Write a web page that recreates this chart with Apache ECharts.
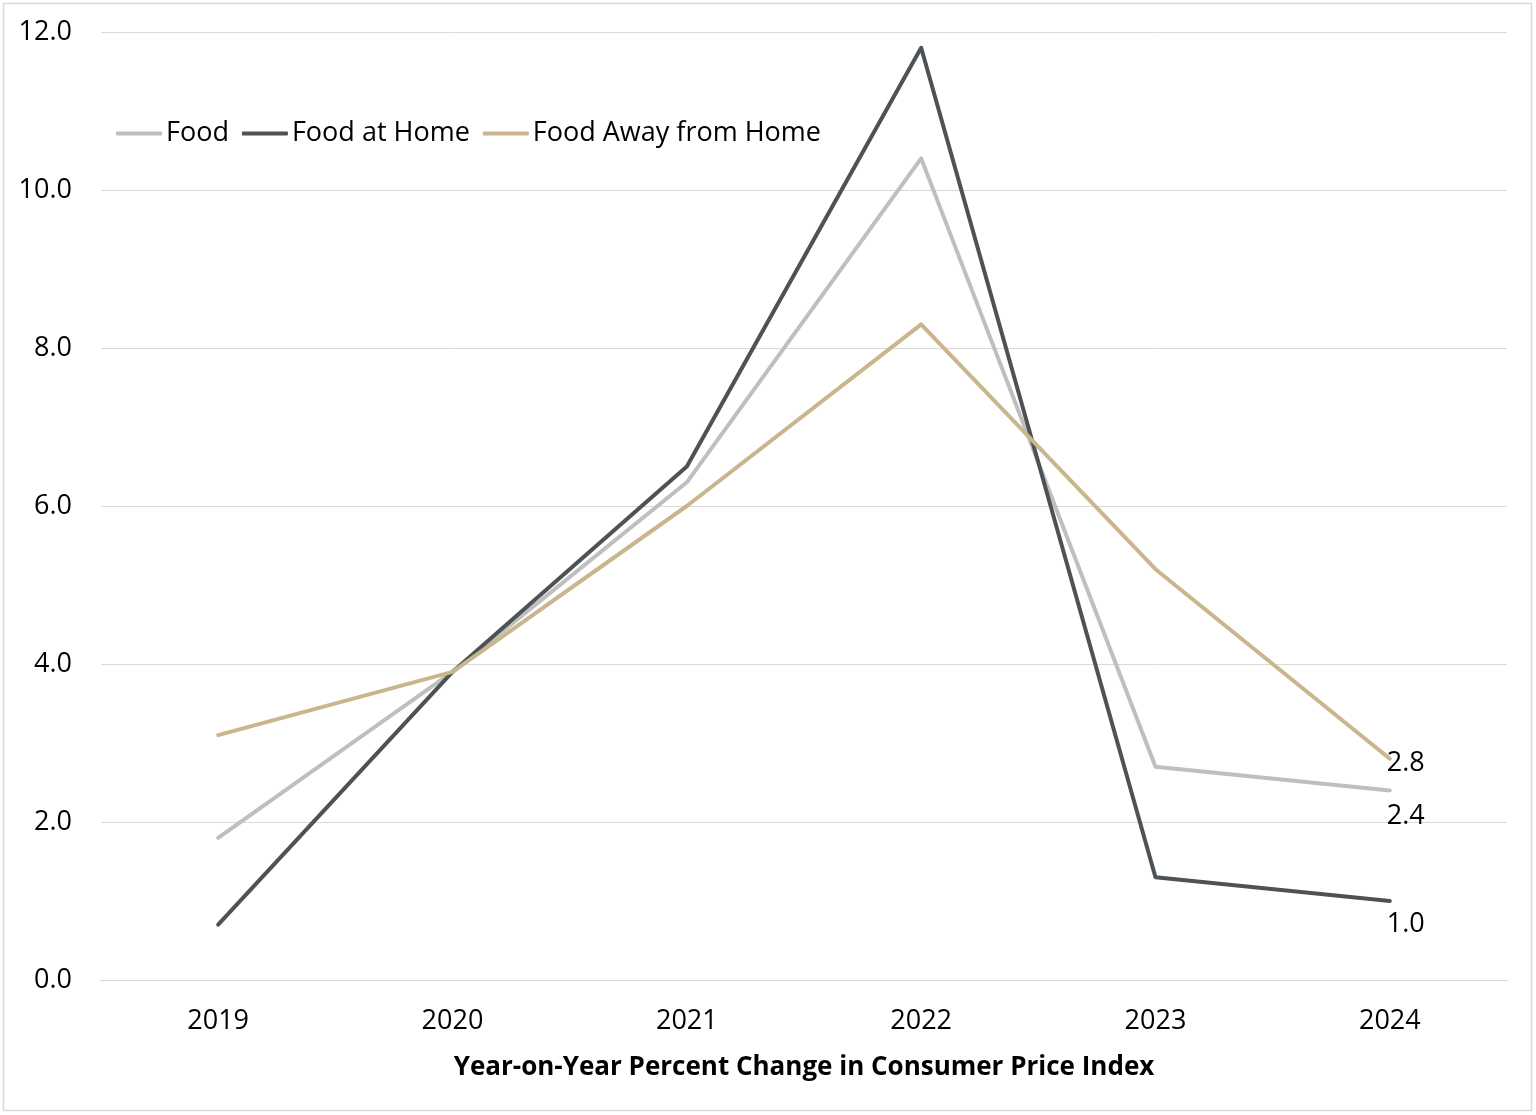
<!DOCTYPE html>
<html><head><meta charset="utf-8">
<script src="https://cdn.jsdelivr.net/npm/echarts@6/dist/echarts.min.js"></script>
<style>html,body{margin:0;padding:0;background:#fff}#c{width:1536px;height:1115px}</style>
</head><body><div id="c"></div>
<script>
const years = ['2019','2020','2021','2022','2023','2024'];
const food = [1.8, 3.9, 6.3, 10.4, 2.7, 2.4];
const foodAtHome = [0.7, 3.9, 6.5, 11.8, 1.3, 1.0];
const foodAway = [3.1, 3.9, 6.0, 8.3, 5.2, 2.8];
const yTicks = [0, 2, 4, 6, 8, 10, 12];

const FONT = 'Open Sans';
function endLbl(dx, dy) {
  return {
    show: true,
    offset: [dx, dy],
    color: '#000',
    fontFamily: FONT,
    fontSize: 27,
    formatter: p => Number(p.value).toFixed(1)
  };
}
function mk(name, data, color, lbl) {
  return {
    name, type: 'line', data,
    symbol: 'none', showSymbol: false,
    lineStyle: { color, width: 4, cap: 'round', join: 'round' },
    itemStyle: { color },
    endLabel: lbl,
    z: 2
  };
}
const chart = echarts.init(document.getElementById('c'));
chart.setOption({
  animation: false,
  backgroundColor: '#fff',
  graphic: [{
    type: 'rect', shape: { x: 3.5, y: 3.5, width: 1528, height: 1107 },
    style: { fill: 'none', stroke: '#d9d9d9', lineWidth: 1.5 }, silent: true
  }],
  grid: { left: 101, right: 29, top: 32, bottom: 135, containLabel: false },
  legend: {
    left: 111, top: 115,
    itemWidth: 46, itemHeight: 4, itemGap: 13,
    icon: 'roundRect',
    textStyle: { fontFamily: FONT, fontSize: 27, color: '#000', padding: [0, 0, 0, -1] },
    data: ['Food', 'Food at Home', 'Food Away from Home']
  },
  xAxis: {
    type: 'category', data: years, boundaryGap: true,
    name: 'Year-on-Year Percent Change in Consumer Price Index',
    nameLocation: 'middle', nameGap: 75,
    nameTextStyle: { fontFamily: FONT, fontSize: 26, fontWeight: 'bold', color: '#000' },
    axisLine: { show: true, lineStyle: { color: '#d9d9d9', width: 1 } },
    axisTick: { show: false },
    axisLabel: { fontFamily: FONT, fontSize: 27, color: '#000', margin: 28 }
  },
  yAxis: {
    type: 'value', min: 0, max: 12, interval: 2,
    axisLine: { show: false }, axisTick: { show: false },
    splitLine: { lineStyle: { color: '#d9d9d9', width: 1 } },
    axisLabel: {
      fontFamily: FONT, fontSize: 27, color: '#000', margin: 29,
      formatter: v => yTicks.includes(v) ? v.toFixed(1) : ''
    }
  },
  series: [
    mk('Food', food, '#C0BEBF', endLbl(-11, 26)),
    mk('Food at Home', foodAtHome, '#4D5257', endLbl(-11, 23)),
    mk('Food Away from Home', foodAway, '#C9B68D', endLbl(-11, 5))
  ]
});
</script></body></html>
